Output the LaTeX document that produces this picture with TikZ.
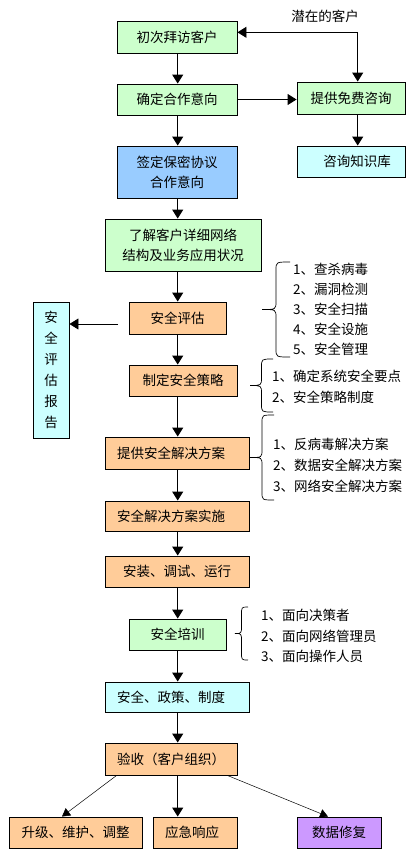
\documentclass[tikz,border=0pt]{standalone}
\usepackage{fontspec}
\setmainfont{Noto Sans CJK SC}
\usetikzlibrary{arrows.meta}

%% Farby blokov
\definecolor{boxgreen}{HTML}{CCFFCC}
\definecolor{boxblue}{HTML}{99CCFF}
\definecolor{boxcyan}{HTML}{CCFFFF}
\definecolor{boxorange}{HTML}{FFCC99}
\definecolor{boxpurple}{HTML}{CC99FF}

%% Zložená zátvorka: hrot x, horný y, dolný y, koncové x
\newcommand{\itembrace}[4]{%
    \pgfmathsetmacro{\bm}{(#2+#3)/2}
    \pgfmathsetmacro{\bs}{(#1+#4)/2}
    \draw[brc] (#4,#2) .. controls (\bs,#2) .. (\bs,#2+8)
        -- (\bs,\bm-8) .. controls (\bs,\bm) .. (#1,\bm)
        .. controls (\bs,\bm) .. (\bs,\bm+8)
        -- (\bs,#3-8) .. controls (\bs,#3) .. (#4,#3);
}

\begin{document}
\begin{tikzpicture}[
    x=1pt, y=-1pt,
    font=\fontsize{13.5}{20}\selectfont,
    box/.style={draw=black, line width=0.9pt, inner sep=0pt, align=center},
    %% Zelené kroky
    greenbox/.style={box, fill=boxgreen},
    bluebox/.style={box, fill=boxblue},
    cyanbox/.style={box, fill=boxcyan},
    orangebox/.style={box, fill=boxorange},
    purplebox/.style={box, fill=boxpurple},
    %% Hlavný tok
    flow/.style={draw=black, line width=0.9pt, -{Triangle[length=9pt, width=11pt]}},
    %% Tenké šípky na konci
    thinflow/.style={draw=black, line width=0.5pt, -{Triangle[length=8pt, width=9pt]}},
    brc/.style={draw=black, line width=0.7pt},
    items/.style={anchor=west, align=left, inner sep=0pt}
]
\useasboundingbox (0,0) rectangle (420,860);

%% ══════════════════════════════════════════════════════════════════
%% Horná časť — získanie zákazníka
%% ══════════════════════════════════════════════════════════════════
\node[greenbox, minimum width=120, minimum height=32] (visit) at (177,37) {初次拜访客户};
\node[greenbox, minimum width=120, minimum height=31] (intent) at (177,99.5) {确定合作意向};
\node[bluebox, minimum width=120, minimum height=52] (sign) at (177,172) {签定保密协议\\合作意向};
\node[greenbox, minimum width=108, minimum height=32] (consult) at (351,98) {提供免费咨询};
\node[cyanbox, minimum width=108, minimum height=31] (kb) at (351,161.5) {\hspace{12pt}咨询知识库};
\node[inner sep=0pt] (potential) at (325,16) {潜在的客户};

\coordinate (axis) at (177.7,0);
\coordinate (lead) at (357.7,32.3);

\draw[flow] (lead) -- (visit.east |- lead);
\draw[flow] (lead) -- (consult.north -| lead);
\draw[flow] (intent.east) -- (consult.west |- intent.east);
\draw[flow] (consult.south -| lead) -- (kb.north -| lead);

%% ══════════════════════════════════════════════════════════════════
%% Stredná časť — bezpečnostné kroky
%% ══════════════════════════════════════════════════════════════════
\node[greenbox, minimum width=156, minimum height=52] (survey) at (183,245)
    {了解客户详细网络\\结构及业务应用状况};
\node[orangebox, minimum width=97, minimum height=32] (assess) at (177.5,318) {安全评估};
\node[cyanbox, minimum width=36, minimum height=136,
      font=\fontsize{13.5}{21}\selectfont] (report) at (51,370)
    {安\\全\\评\\估\\报\\告};
\node[orangebox, minimum width=108, minimum height=31] (policy) at (183,380.5) {制定安全策略};
\node[orangebox, minimum width=144, minimum height=32] (solution) at (177,453)
    {提供安全解决方案\hspace{12pt}};
\node[orangebox, minimum width=144, minimum height=30] (implement) at (177,516)
    {安全解决方案实施\hspace{12pt}};
\node[orangebox, minimum width=144, minimum height=31] (install) at (177,571.5) {安装、调试、运行};
\node[greenbox, minimum width=97, minimum height=31] (training) at (177.5,634.5) {安全培训};
\node[cyanbox, minimum width=144, minimum height=30] (rules) at (177,697)
    {安全、政策、制度\hspace{12pt}};

\coordinate (rptstart) at (118,324);
\draw[flow] (rptstart) -- (report.east |- rptstart);

%% Zoznamy so zátvorkami
\itembrace{262}{262}{357}{290}
\node[items, font=\fontsize{13.5}{20}\selectfont] (assesslist) at (293,309)
    {1、查杀病毒\\2、漏洞检测\\3、安全扫描\\4、安全设施\\5、安全管理};
\itembrace{250}{359}{412}{273}
\node[items, font=\fontsize{13.5}{21}\selectfont] (policylist) at (272,386.5)
    {1、确定系统安全要点\\2、安全策略制度};
\itembrace{250}{415}{500}{274}
\node[items, font=\fontsize{13.5}{21}\selectfont] (solutionlist) at (273,465)
    {1、反病毒解决方案\\2、数据安全解决方案\\3、网络安全解决方案};
\itembrace{235}{607}{660}{248}
\node[items, font=\fontsize{13.5}{20.5}\selectfont] (traininglist) at (261,636)
    {1、面向决策者\\2、面向网络管理员\\3、面向操作人员};

%% ══════════════════════════════════════════════════════════════════
%% Spodná časť — prevzatie
%% ══════════════════════════════════════════════════════════════════
\node[orangebox, minimum width=132, minimum height=32] (accept) at (171,759) {验收（客户组织）};
\node[orangebox, minimum width=133, minimum height=31] (upgrade) at (75.5,832.5) {升级、维护、调整};
\node[orangebox, minimum width=84, minimum height=31] (emergency) at (195,832.5) {应急响应\hspace{6pt}};
\node[purplebox, minimum width=84, minimum height=31] (recovery) at (339,832.5) {数据修复};

%% Hlavný zvislý tok
\foreach \a/\b in {visit/intent, intent/sign, sign/survey, survey/assess,
                   assess/policy, policy/solution, solution/implement,
                   implement/install, install/training, training/rules,
                   rules/accept, accept/emergency} {
    \draw[flow] (\a.south -| axis) -- (\b.north -| axis);
}

\draw[thinflow] ([xshift=12pt]accept.south west) -- ([xshift=-13.5pt]upgrade.north);
\draw[thinflow] ([xshift=-10pt]accept.south east) -- ([xshift=-11pt]recovery.north);

\end{tikzpicture}
\end{document}
